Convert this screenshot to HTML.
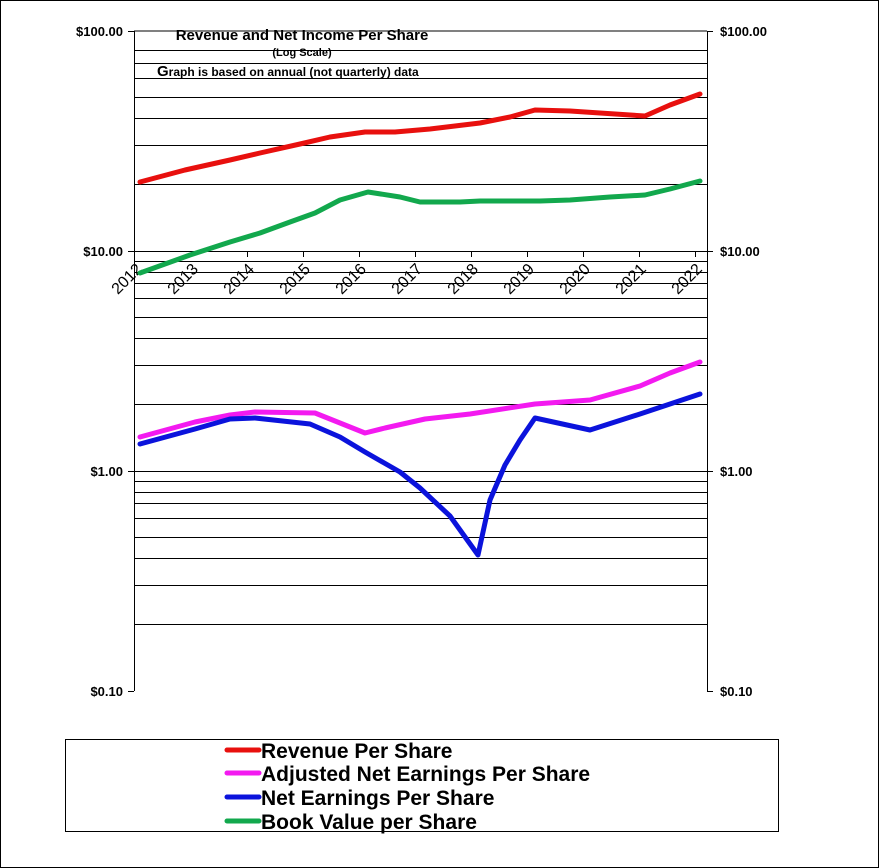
<!DOCTYPE html>
<html><head><meta charset="utf-8"><style>
html,body{margin:0;padding:0;background:#fff}
svg{display:block}
text{font-family:"Liberation Sans",Arial,sans-serif}
</style></head><body>
<svg width="879" height="868" viewBox="0 0 879 868" xmlns="http://www.w3.org/2000/svg">
<rect x="0.5" y="0.5" width="878" height="867" fill="#fff" stroke="#000"/>
<g stroke="#000" stroke-width="1">
<line x1="134" x2="707" y1="31" y2="31"/>
<line x1="134" x2="707" y1="50.5" y2="50.5"/>
<line x1="134" x2="707" y1="63.5" y2="63.5"/>
<line x1="134" x2="707" y1="78.5" y2="78.5"/>
<line x1="134" x2="707" y1="97.5" y2="97.5"/>
<line x1="134" x2="707" y1="118.5" y2="118.5"/>
<line x1="134" x2="707" y1="145.5" y2="145.5"/>
<line x1="134" x2="707" y1="184.5" y2="184.5"/>
<line x1="134" x2="707" y1="251.5" y2="251.5"/>
<line x1="134" x2="707" y1="261.5" y2="261.5"/>
<line x1="134" x2="707" y1="272.5" y2="272.5"/>
<line x1="134" x2="707" y1="283.5" y2="283.5"/>
<line x1="134" x2="707" y1="298.5" y2="298.5"/>
<line x1="134" x2="707" y1="317.5" y2="317.5"/>
<line x1="134" x2="707" y1="338.5" y2="338.5"/>
<line x1="134" x2="707" y1="365.5" y2="365.5"/>
<line x1="134" x2="707" y1="404.5" y2="404.5"/>
<line x1="134" x2="707" y1="471.5" y2="471.5"/>
<line x1="134" x2="707" y1="481.5" y2="481.5"/>
<line x1="134" x2="707" y1="492.5" y2="492.5"/>
<line x1="134" x2="707" y1="503.5" y2="503.5"/>
<line x1="134" x2="707" y1="518.5" y2="518.5"/>
<line x1="134" x2="707" y1="537.5" y2="537.5"/>
<line x1="134" x2="707" y1="558.5" y2="558.5"/>
<line x1="134" x2="707" y1="585.5" y2="585.5"/>
<line x1="134" x2="707" y1="624.5" y2="624.5"/>
<line x1="134.5" x2="134.5" y1="31" y2="691"/>
<line x1="707.5" x2="707.5" y1="31" y2="691"/>
<line x1="128" x2="134" y1="31.5" y2="31.5"/>
<line x1="128" x2="134" y1="251.5" y2="251.5"/>
<line x1="128" x2="134" y1="471.5" y2="471.5"/>
<line x1="128" x2="134" y1="691.5" y2="691.5"/>
<line x1="707" x2="713" y1="31.5" y2="31.5"/>
<line x1="707" x2="713" y1="251.5" y2="251.5"/>
<line x1="707" x2="713" y1="471.5" y2="471.5"/>
<line x1="707" x2="713" y1="691.5" y2="691.5"/>
<path d="M191.5 251v6M247.5 251v6M303.5 251v6M359.5 251v6M415.5 251v6M471.5 251v6M527.5 251v6M583.5 251v6M639.5 251v6M695.5 251v6"/>
</g>
<g font-size="13" font-weight="bold" fill="#000">
<text x="123" y="36" text-anchor="end">$100.00</text>
<text x="123" y="256" text-anchor="end">$10.00</text>
<text x="123" y="476" text-anchor="end">$1.00</text>
<text x="123" y="696" text-anchor="end">$0.10</text>
<text x="720" y="36">$100.00</text>
<text x="720" y="256">$10.00</text>
<text x="720" y="476">$1.00</text>
<text x="720" y="696">$0.10</text>
</g>
<g font-size="16" fill="#000">
<text transform="translate(143,270) rotate(-45)" text-anchor="end">2012</text>
<text transform="translate(199,270) rotate(-45)" text-anchor="end">2013</text>
<text transform="translate(255,270) rotate(-45)" text-anchor="end">2014</text>
<text transform="translate(311,270) rotate(-45)" text-anchor="end">2015</text>
<text transform="translate(367,270) rotate(-45)" text-anchor="end">2016</text>
<text transform="translate(423,270) rotate(-45)" text-anchor="end">2017</text>
<text transform="translate(479,270) rotate(-45)" text-anchor="end">2018</text>
<text transform="translate(535,270) rotate(-45)" text-anchor="end">2019</text>
<text transform="translate(591,270) rotate(-45)" text-anchor="end">2020</text>
<text transform="translate(647,270) rotate(-45)" text-anchor="end">2021</text>
<text transform="translate(703,270) rotate(-45)" text-anchor="end">2022</text>
</g>
<text x="302" y="40" font-size="15" font-weight="bold" text-anchor="middle">Revenue  and  Net Income  Per Share</text>
<text x="302" y="56" font-size="11" font-weight="bold" text-anchor="middle">(Log  Scale)</text>
<text x="157" y="76" font-size="12" font-weight="bold"><tspan font-size="15">G</tspan>raph is based on annual (not quarterly) data</text>
<g fill="none" stroke-width="5" stroke-linejoin="round" stroke-linecap="round">
<polyline stroke="#e8100e" points="140,182 185,170 230,160 260,153 300,144 330,137 365,132 395,132 430,129 480,123 510,117 535,110 570,111 600,113 645,116 670,105 700,94"/>
<polyline stroke="#12a84d" points="140,273 190,255 230,242 260,233 290,222 315,213 340,200 368,192 400,197 420,202 460,202 480,201 540,201 570,200 610,197 645,195 670,189 700,181"/>
<polyline stroke="#f31af0" points="140,437 195,422 230,415 255,412 315,413 365,433 385,428 425,419 470,414 535,404 590,400 640,386 670,373 700,362"/>
<polyline stroke="#0b13dc" points="140,444 195,429 230,419 255,418 310,424 340,437 365,452 400,472 420,488 450,516 478,555 490,500 505,465 520,440 535,418 590,430 640,414 700,394"/>
</g>
<rect x="65.5" y="739.5" width="713" height="92" fill="#fff" stroke="#000"/>
<g stroke-width="5" stroke-linecap="round">
<line x1="227" x2="259" y1="750" y2="750" stroke="#e8100e"/>
<line x1="227" x2="259" y1="773" y2="773" stroke="#f31af0"/>
<line x1="227" x2="259" y1="797" y2="797" stroke="#0b13dc"/>
<line x1="227" x2="259" y1="821" y2="821" stroke="#12a84d"/>
</g>
<g font-size="21" font-weight="bold" fill="#000">
<text x="261" y="758">Revenue Per Share</text>
<text x="261" y="781">Adjusted Net Earnings Per Share</text>
<text x="261" y="805">Net Earnings Per Share</text>
<text x="261" y="829">Book Value per Share</text>
</g>
</svg>
</body></html>
